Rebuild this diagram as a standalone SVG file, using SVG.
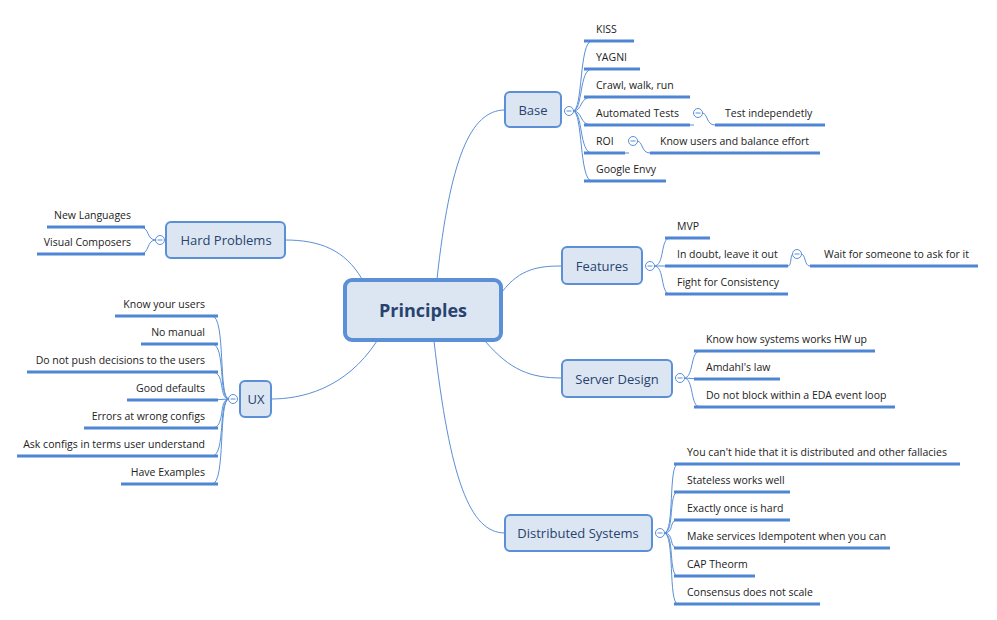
<svg xmlns="http://www.w3.org/2000/svg" width="997" height="620" viewBox="0 0 997 620">
<style>
.t{fill:#dce6f3;stroke:#5b8fd6;stroke-width:2}
.c{fill:#dce6f3;stroke:#5b8fd6;stroke-width:4}
.tt{font-family:"Open Sans",sans-serif;font-size:13px;fill:#27436e;text-anchor:middle}
.lt{font-family:"Open Sans",sans-serif;font-size:10.5px;fill:#222}
.r{text-anchor:end}
.u{stroke:#4f86d3;stroke-width:3;fill:none}
.k{stroke:#5b8fd6;stroke-width:1;fill:none}
.o{fill:#fff;stroke:#5b8fd6;stroke-width:1}
</style>
<defs><g id="m"><circle class="o" r="4.5"/><line x1="-2.5" x2="2.5" stroke="#5b8fd6" stroke-width="1"/></g></defs>
<g id="connectors">
<path class="k" d="M437,279 C450,160 470,110 505,110"/>
<path class="k" d="M502,292 C520,268 540,266 562,266"/>
<path class="k" d="M485,341 C510,370 530,378 562,378"/>
<path class="k" d="M434,341 C450,480 470,533 505,533"/>
<path class="k" d="M362,279 C345,250 320,240 285,240"/>
<path class="k" d="M377,341 C345,390 300,399 271,399"/>
<path class="k" d="M573,111 C583,111 579,41 592,41 M573,111 C583,111 579,69 592,69 M573,111 C583,111 579,97 592,97 M573,111 C583,111 579,125 592,125 M573,111 C583,111 579,153 592,153 M573,111 C583,111 579,181 592,181"/>
<path class="k" d="M690,125 L694,125 M702,113 C708,113 706,125 715,125 M625,153 L629,153 M637,141 C643,141 641,153 650,153"/>
<path class="k" d="M654,266 C665,266 660,238 670,238 M654,266 L670,266 M654,266 C665,266 660,294 670,294 M788,266 C792,266 790,254 793,254 M801,254 C806,254 804,266 810,266"/>
<path class="k" d="M684,378 C694,378 690,351 700,351 M684,378 L700,379 M684,378 C694,378 690,407 700,407"/>
<path class="k" d="M664,533 C675,533 668,464 678,464 M664,533 C675,533 668,492 678,492 M664,533 C675,533 668,520 678,520 M664,533 C675,533 668,548 678,548 M664,533 C675,533 668,576 678,576 M664,533 C675,533 668,604 678,604"/>
<path class="k" d="M156,240 C146,240 150,227 140,227 M156,240 C146,240 150,254 140,254"/>
<path class="k" d="M229,399 C218,399 226,316 212,316 M229,399 C218,399 226,344 212,344 M229,399 C218,399 226,372 212,372 M229,399 L212,400 M229,399 C218,399 226,428 212,428 M229,399 C218,399 226,456 212,456 M229,399 C218,399 226,484 212,484"/>
</g>
<g id="principles"><rect class="c" x="345" y="280" width="156" height="60" rx="7"/><text class="tt" x="423" y="317" style="font-size:18px;font-weight:bold">Principles</text></g>
<g id="base"><rect class="t" x="505" y="92" width="56" height="35" rx="5"/><text class="tt" x="533" y="115">Base</text><use href="#m" x="569" y="111"/>
<text class="lt" x="596" y="33">KISS</text><path class="u" d="M584,41 H634"/>
<text class="lt" x="596" y="61">YAGNI</text><path class="u" d="M584,69 H640"/>
<text class="lt" x="596" y="89">Crawl, walk, run</text><path class="u" d="M584,97 H690"/>
<text class="lt" x="596" y="117">Automated Tests</text><path class="u" d="M584,125 H690"/><use href="#m" x="698" y="113"/>
<text class="lt" x="725" y="117">Test independetly</text><path class="u" d="M715,125 H825"/>
<text class="lt" x="596" y="145">ROI</text><path class="u" d="M584,153 H625"/><use href="#m" x="633" y="141"/>
<text class="lt" x="660" y="145">Know users and balance effort</text><path class="u" d="M650,153 H820"/>
<text class="lt" x="596" y="173">Google Envy</text><path class="u" d="M584,181 H666"/></g>
<g id="features"><rect class="t" x="562" y="247" width="80" height="37" rx="5"/><text class="tt" x="602" y="271">Features</text><use href="#m" x="650" y="266"/>
<text class="lt" x="677" y="230">MVP</text><path class="u" d="M665,238 H710"/>
<text class="lt" x="677" y="258">In doubt, leave it out</text><path class="u" d="M665,266 H788"/><use href="#m" x="797" y="254"/>
<text class="lt" x="824" y="258">Wait for someone to ask for it</text><path class="u" d="M810,266 H978"/>
<text class="lt" x="677" y="286">Fight for Consistency</text><path class="u" d="M665,294 H788"/></g>
<g id="server"><rect class="t" x="562" y="360" width="110" height="37" rx="5"/><text class="tt" x="617" y="384">Server Design</text><use href="#m" x="680" y="378"/>
<text class="lt" x="706" y="343">Know how systems works HW up</text><path class="u" d="M694,351 H875"/>
<text class="lt" x="706" y="371">Amdahl's law</text><path class="u" d="M694,379 H780"/>
<text class="lt" x="706" y="399">Do not block within a EDA event loop</text><path class="u" d="M694,407 H895"/></g>
<g id="distributed"><rect class="t" x="505" y="515" width="147" height="36" rx="5"/><text class="tt" x="578" y="538">Distributed Systems</text><use href="#m" x="660" y="533"/>
<text class="lt" x="687" y="456">You can't hide that it is distributed and other fallacies</text><path class="u" d="M674,464 H960"/>
<text class="lt" x="687" y="484">Stateless works well</text><path class="u" d="M674,492 H790"/>
<text class="lt" x="687" y="512">Exactly once is hard</text><path class="u" d="M674,520 H790"/>
<text class="lt" x="687" y="540">Make services Idempotent when you can</text><path class="u" d="M674,548 H890"/>
<text class="lt" x="687" y="568">CAP Theorm</text><path class="u" d="M674,576 H755"/>
<text class="lt" x="687" y="596">Consensus does not scale</text><path class="u" d="M674,604 H820"/></g>
<g id="hard"><rect class="t" x="166" y="222" width="119" height="36" rx="5"/><text class="tt" x="226" y="245">Hard Problems</text><use href="#m" x="160" y="240"/>
<text class="lt r" x="131" y="219">New Languages</text><path class="u" d="M47,227 H145"/>
<text class="lt r" x="131" y="246">Visual Composers</text><path class="u" d="M37,254 H145"/></g>
<g id="ux"><rect class="t" x="240" y="381" width="31" height="36" rx="5"/><text class="tt" x="256" y="404">UX</text><use href="#m" x="233" y="399"/>
<text class="lt r" x="205" y="308">Know your users</text><path class="u" d="M115,316 H218"/>
<text class="lt r" x="205" y="336">No manual</text><path class="u" d="M141,344 H218"/>
<text class="lt r" x="205" y="364">Do not push decisions to the users</text><path class="u" d="M27,372 H218"/>
<text class="lt r" x="205" y="392">Good defaults</text><path class="u" d="M127,400 H218"/>
<text class="lt r" x="205" y="420">Errors at wrong configs</text><path class="u" d="M84,428 H218"/>
<text class="lt r" x="205" y="448">Ask configs in terms user understand</text><path class="u" d="M17,456 H218"/>
<text class="lt r" x="205" y="476">Have Examples</text><path class="u" d="M121,484 H218"/></g>
</svg>
